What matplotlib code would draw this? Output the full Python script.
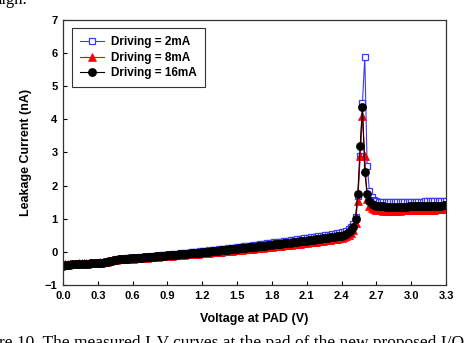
import numpy as np
import matplotlib
matplotlib.use('Agg')
import matplotlib.pyplot as plt

plt.rcParams['font.family'] = ['Liberation Sans', 'DejaVu Sans']

# voltage sweep at the pad: 0 V .. 3.3 V, 20 mV steps
v_start, v_stop, v_step = 0.0, 3.3, 0.02
voltage = np.round(np.arange(v_start, v_stop + v_step / 2, v_step), 2)

labels = ['Driving = 2mA', 'Driving = 8mA', 'Driving = 16mA']

# leakage current (nA)
i_2ma = [
    -0.42, -0.40, -0.39, -0.39, -0.38, -0.38, -0.37, -0.37, -0.37, -0.36,
    -0.36, -0.36, -0.35, -0.35, -0.35, -0.34, -0.34, -0.33, -0.32, -0.30,
    -0.28, -0.26, -0.24, -0.22, -0.21, -0.20, -0.20, -0.19, -0.19, -0.18,
    -0.18, -0.17, -0.17, -0.16, -0.15, -0.15, -0.14, -0.14, -0.13, -0.12,
    -0.12, -0.11, -0.10, -0.10, -0.09, -0.08, -0.08, -0.07, -0.06, -0.06,
    -0.05, -0.04, -0.03, -0.03, -0.02, -0.01, 0.00, 0.00, 0.01, 0.02,
    0.03, 0.03, 0.04, 0.05, 0.06, 0.06, 0.07, 0.08, 0.09, 0.09,
    0.10, 0.11, 0.12, 0.13, 0.13, 0.14, 0.15, 0.16, 0.17, 0.18,
    0.19, 0.19, 0.20, 0.21, 0.22, 0.23, 0.24, 0.25, 0.26, 0.27,
    0.28, 0.29, 0.29, 0.30, 0.31, 0.32, 0.33, 0.34, 0.35, 0.36,
    0.37, 0.38, 0.39, 0.40, 0.41, 0.42, 0.43, 0.44, 0.45, 0.46,
    0.47, 0.48, 0.49, 0.50, 0.51, 0.52, 0.53, 0.55, 0.56, 0.57,
    0.59, 0.61, 0.64, 0.68, 0.74, 0.85, 1.05, 1.70, 2.90, 4.50,
    5.89, 2.60, 1.85, 1.65, 1.58, 1.54, 1.52, 1.51, 1.50, 1.50,
    1.50, 1.50, 1.50, 1.50, 1.50, 1.50, 1.51, 1.51, 1.51, 1.51,
    1.51, 1.52, 1.52, 1.52, 1.52, 1.52, 1.53, 1.53, 1.53, 1.53,
    1.53, 1.54, 1.54, 1.54, 1.55, 1.55,
]

i_8ma = [
    -0.40, -0.38, -0.37, -0.37, -0.36, -0.36, -0.36, -0.35, -0.35, -0.35,
    -0.35, -0.34, -0.34, -0.34, -0.33, -0.33, -0.32, -0.32, -0.31, -0.29,
    -0.27, -0.25, -0.24, -0.23, -0.22, -0.22, -0.21, -0.21, -0.20, -0.20,
    -0.20, -0.19, -0.19, -0.18, -0.18, -0.17, -0.17, -0.16, -0.16, -0.15,
    -0.15, -0.14, -0.13, -0.13, -0.12, -0.12, -0.11, -0.11, -0.10, -0.10,
    -0.09, -0.08, -0.08, -0.07, -0.07, -0.06, -0.06, -0.05, -0.05, -0.04,
    -0.04, -0.03, -0.02, -0.02, -0.01, -0.01, 0.00, 0.01, 0.01, 0.02,
    0.02, 0.03, 0.04, 0.04, 0.05, 0.06, 0.06, 0.07, 0.08, 0.08,
    0.09, 0.10, 0.10, 0.11, 0.12, 0.12, 0.13, 0.14, 0.15, 0.15,
    0.16, 0.17, 0.18, 0.18, 0.19, 0.20, 0.21, 0.21, 0.22, 0.23,
    0.24, 0.25, 0.25, 0.26, 0.27, 0.28, 0.29, 0.30, 0.30, 0.31,
    0.32, 0.33, 0.34, 0.35, 0.36, 0.37, 0.38, 0.39, 0.40, 0.41,
    0.42, 0.44, 0.47, 0.51, 0.57, 0.66, 0.88, 1.55, 2.90, 4.10,
    2.90, 1.60, 1.38, 1.31, 1.28, 1.26, 1.25, 1.25, 1.24, 1.24,
    1.24, 1.24, 1.24, 1.24, 1.24, 1.24, 1.25, 1.25, 1.25, 1.25,
    1.25, 1.25, 1.26, 1.26, 1.26, 1.26, 1.26, 1.27, 1.27, 1.27,
    1.27, 1.28, 1.28, 1.28, 1.29, 1.29,
]

i_16ma = [
    -0.42, -0.40, -0.39, -0.39, -0.38, -0.38, -0.37, -0.37, -0.37, -0.36,
    -0.36, -0.36, -0.35, -0.35, -0.35, -0.34, -0.34, -0.33, -0.32, -0.30,
    -0.28, -0.26, -0.24, -0.23, -0.22, -0.21, -0.21, -0.20, -0.20, -0.19,
    -0.19, -0.18, -0.18, -0.17, -0.17, -0.16, -0.16, -0.15, -0.14, -0.14,
    -0.13, -0.12, -0.12, -0.11, -0.11, -0.10, -0.09, -0.09, -0.08, -0.08,
    -0.07, -0.06, -0.06, -0.05, -0.05, -0.04, -0.03, -0.03, -0.02, -0.02,
    -0.01, 0.00, 0.01, 0.01, 0.02, 0.03, 0.03, 0.04, 0.05, 0.05,
    0.06, 0.07, 0.08, 0.08, 0.09, 0.10, 0.11, 0.11, 0.12, 0.13,
    0.14, 0.15, 0.15, 0.16, 0.17, 0.18, 0.19, 0.19, 0.20, 0.21,
    0.22, 0.23, 0.23, 0.24, 0.25, 0.26, 0.27, 0.27, 0.28, 0.29,
    0.30, 0.31, 0.32, 0.33, 0.33, 0.34, 0.35, 0.36, 0.37, 0.38,
    0.39, 0.40, 0.41, 0.42, 0.43, 0.44, 0.45, 0.46, 0.47, 0.48,
    0.48, 0.51, 0.55, 0.60, 0.66, 0.76, 1.00, 1.75, 3.20, 4.38,
    2.40, 1.75, 1.55, 1.46, 1.41, 1.39, 1.38, 1.37, 1.37, 1.36,
    1.36, 1.36, 1.36, 1.36, 1.36, 1.36, 1.36, 1.36, 1.36, 1.37,
    1.37, 1.37, 1.37, 1.37, 1.37, 1.38, 1.38, 1.38, 1.38, 1.38,
    1.39, 1.39, 1.39, 1.39, 1.40, 1.40,
]

x_ticks = [0.0, 0.3, 0.6, 0.9, 1.2, 1.5, 1.8, 2.1, 2.4, 2.7, 3.0, 3.3]
y_ticks = [-1, 0, 1, 2, 3, 4, 5, 6, 7]

fig = plt.figure(figsize=(4.74, 3.43), dpi=100)
ax = fig.add_axes([0.133, 0.169, 0.808, 0.773])

ax.plot(voltage, i_2ma, 's-', color='#3a3aff', mfc='white', mec='#3a3aff',
        ms=5.0, mew=0.9, lw=0.8, label=labels[0])
ax.plot(voltage, i_8ma, '^-', color='#ff0000', mfc='#ff0000', mec='#ff0000',
        ms=5.8, mew=0.5, lw=0.8, label=labels[1])
ax.plot(voltage, i_16ma, 'o-', color='black', mfc='black', mec='black',
        ms=5.8, mew=0.5, lw=0.8, label=labels[2])

ax.set_xlim(0, 3.3)
ax.set_ylim(-1, 7)
ax.set_xticks(x_ticks)
ax.set_xticklabels(['%.1f' % t for t in x_ticks])
ax.set_yticks(y_ticks)
ax.tick_params(direction='in', length=3, width=0.8, labelsize=8, pad=4)
for lab in ax.get_xticklabels() + ax.get_yticklabels():
    lab.set_fontweight('bold')
for sp in ax.spines.values():
    sp.set_linewidth(0.9)
    sp.set_color('#333333')

ax.set_xlabel('Voltage at PAD (V)', fontsize=9, fontweight='bold', labelpad=9)
ax.set_ylabel('Leakage Current (nA)', fontsize=9, fontweight='bold', labelpad=9)

leg = ax.legend(loc='upper left', bbox_to_anchor=(0.023, 0.97), borderaxespad=0,
                fancybox=False, edgecolor='#333333', framealpha=1,
                prop={'size': 8.5, 'weight': 'bold'}, handlelength=2.0,
                handletextpad=0.6, borderpad=0.7, labelspacing=0.3)
leg.get_frame().set_linewidth(0.8)

# surrounding page text, cut off by the crop
fig.text(-0.012, 1.0, 'high.', fontsize=12, family='Liberation Serif',
         ha='left', va='center')
fig.text(-0.07, -0.012, 'Figure 10. The measured I-V curves at the pad of the new proposed I/O',
         fontsize=12.5, family='Liberation Serif', ha='left', va='baseline')

fig.savefig('out.png', dpi=100)
plt.close()
